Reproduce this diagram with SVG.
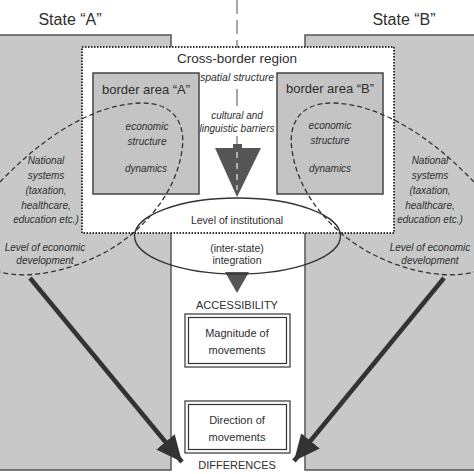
<svg xmlns="http://www.w3.org/2000/svg" width="474" height="474" viewBox="0 0 474 474">
<defs>
<style>
text{font-family:"Liberation Sans",Arial,sans-serif;fill:#2e2e2e;text-anchor:middle}
.it{font-style:italic;font-size:10px}
.state{fill:#c8c8c8;stroke:#555;stroke-width:1.5}
.area{fill:#c4c4c4;stroke:#444;stroke-width:1.5}
.dash{fill:none;stroke:#333;stroke-width:1.3;stroke-dasharray:5 3}
.box{fill:#fff;stroke:#333;stroke-width:1.2}
.arrow{stroke:#333;stroke-width:4.5;fill:none}
.axis{stroke:#777;stroke-width:1.3;stroke-dasharray:14 6}
</style>
<marker id="ah" markerUnits="userSpaceOnUse" markerWidth="28" markerHeight="24" refX="26" refY="12" orient="auto">
<path d="M0,0 L26,12 L0,24 Z" fill="#333"/>
</marker>
</defs>
<rect width="474" height="474" fill="#fff"/>
<g id="stateA">
<rect class="state" x="-2" y="35" width="173" height="435"/>
<text x="70" y="25" font-size="16">State “A”</text>
</g>
<g id="stateB">
<rect class="state" x="305" y="35" width="172" height="435"/>
<text x="404" y="25" font-size="16">State “B”</text>
</g>
<g id="crossBorder">
<rect x="82" y="47" width="312" height="186" fill="#fff" stroke="#333" stroke-width="2" stroke-dasharray="1.5 1.5"/>
<text x="237" y="63" font-size="13.5">Cross-border region</text>
<text x="237" y="81" font-size="10.5" font-style="italic">spatial structure</text>
<text x="237" y="119" class="it">cultural and</text>
<text x="237" y="132" class="it">linguistic barriers</text>
</g>
<g id="borderA">
<rect class="area" x="93" y="73" width="106" height="121"/>
<text x="146" y="94" font-size="13">border area “A”</text>
<text x="147" y="130" class="it" font-size="10.5">economic</text>
<text x="147" y="145" class="it" font-size="10.5">structure</text>
<text x="146" y="172" class="it" font-size="10.5">dynamics</text>
</g>
<g id="borderB">
<rect class="area" x="277" y="73" width="106" height="121"/>
<text x="330" y="93" font-size="13">border area “B”</text>
<text x="330" y="129" class="it" font-size="10.5">economic</text>
<text x="330" y="144" class="it" font-size="10.5">structure</text>
<text x="330" y="172" class="it" font-size="10.5">dynamics</text>
</g>
<g id="nationalA">
<path class="dash" d="M0,182 C40,140 90,105 140,103 C175,102 186,125 182,150 C176,195 140,235 100,255 C70,270 30,280 0,272"/>
<text x="46" y="164" class="it">National</text>
<text x="46" y="179" class="it">systems</text>
<text x="46" y="194" class="it">(taxation,</text>
<text x="46" y="209" class="it">healthcare,</text>
<text x="46" y="223" class="it">education etc.)</text>
<text x="45" y="251" class="it">Level of economic</text>
<text x="45" y="264" class="it">development</text>
</g>
<g id="nationalB">
<path class="dash" d="M474,182 C434,140 384,105 334,103 C299,102 288,125 292,150 C298,195 334,235 374,255 C404,270 444,280 474,272"/>
<text x="430" y="164" class="it">National</text>
<text x="430" y="179" class="it">systems</text>
<text x="430" y="194" class="it">(taxation,</text>
<text x="430" y="209" class="it">healthcare,</text>
<text x="430" y="223" class="it">education etc.)</text>
<text x="430" y="251" class="it">Level of economic</text>
<text x="430" y="264" class="it">development</text>
</g>
<g id="connectors">
<line class="axis" x1="237" y1="0" x2="237" y2="48"/>
<line x1="237" y1="89" x2="237" y2="106" stroke="#777" stroke-width="1.3"/>
<line x1="237" y1="136" x2="237" y2="146" stroke="#777" stroke-width="1.3"/>
<polygon points="215,148 261,148 237,197" fill="#555"/>
<rect x="233" y="144" width="9" height="6" fill="#555"/>
<line x1="237" y1="152" x2="237" y2="190" stroke="#ddd" stroke-width="1.3" stroke-dasharray="6 5"/>
<polygon points="225,272 249,272 237,293" fill="#555"/>
<line class="arrow" x1="30" y1="278" x2="182" y2="462" marker-end="url(#ah)"/>
<line class="arrow" x1="444" y1="278" x2="294" y2="461" marker-end="url(#ah)"/>
</g>
<g id="integration">
<ellipse cx="237.5" cy="236" rx="103" ry="38" fill="none" stroke="#333" stroke-width="1.3"/>
<text x="237" y="224" font-size="10.5">Level of institutional</text>
<text x="237" y="252" font-size="10.5">(inter-state)</text>
<text x="237" y="264" font-size="10.5">integration</text>
</g>
<g id="accessibility">
<text x="237" y="309" font-size="11">ACCESSIBILITY</text>
</g>
<g id="magnitude">
<rect class="box" x="185" y="314" width="105" height="53"/>
<rect class="box" x="188.5" y="317.5" width="98" height="46"/>
<text x="237" y="337" font-size="11">Magnitude of</text>
<text x="237" y="354" font-size="11">movements</text>
</g>
<g id="direction">
<rect class="box" x="185" y="401" width="105" height="52"/>
<rect class="box" x="188.5" y="404.5" width="98" height="45"/>
<text x="237" y="424" font-size="11">Direction of</text>
<text x="237" y="441" font-size="11">movements</text>
</g>
<g id="differences">
<text x="237" y="469" font-size="11">DIFFERENCES</text>
</g>
</svg>
